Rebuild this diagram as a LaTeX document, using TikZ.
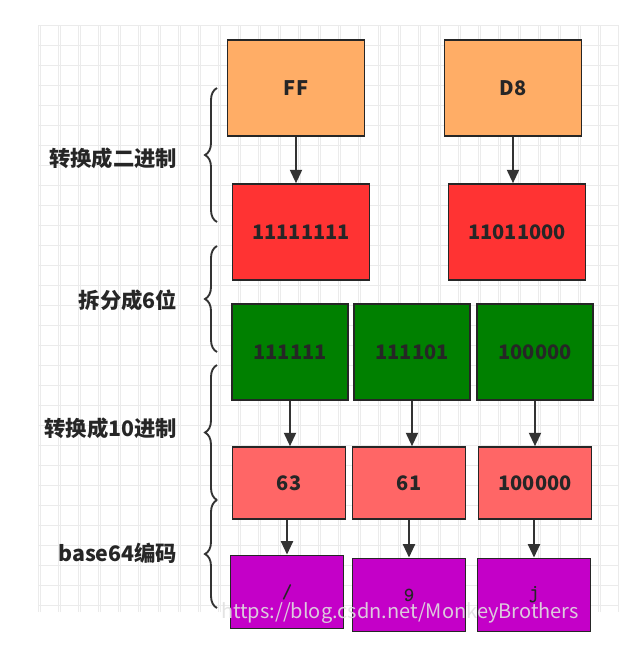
\documentclass[tikz,border=0pt]{standalone}
\usepackage{fontspec}
\setmainfont{Noto Sans CJK SC}
\usetikzlibrary{positioning,arrows.meta,decorations.pathreplacing}
\definecolor{hexorange}{HTML}{FFAD66}
\definecolor{binred}{HTML}{FF3333}
\definecolor{sixgreen}{HTML}{008000}
\definecolor{decsalmon}{HTML}{FF6666}
\definecolor{bpurple}{HTML}{C400C8}
\tikzset{
  cell/.style={draw=black!85, line width=1.2pt, font=\fontsize{15}{18}\selectfont\bfseries,
    text=black!85, inner sep=0pt},
  flow/.style={-{Triangle[length=10pt,width=9pt]}, line width=1.4pt, draw=black!80},
  stage/.style={font=\fontsize{16}{19}\selectfont\bfseries, text=black!85},
  bracket/.style={decorate, decoration={brace, amplitude=9pt}, line width=1.4pt, draw=black!80}
}
\begin{document}
\begin{tikzpicture}[x=0.75pt,y=-0.75pt]
  \useasboundingbox[fill=white] (0,0) rectangle (640,654);
  %grid
  \draw[black!8, line width=0.6pt] (38,25) grid[step=20] (618,612);
  \foreach \gx in {38,58,...,618} \draw[black!8, line width=0.6pt] (\gx,25) -- (\gx,612);
  \foreach \gy in {25,45,...,612} \draw[black!8, line width=0.6pt] (38,\gy) -- (618,\gy);

  %hex bytes
  \node[cell, fill=hexorange, minimum width=103pt, minimum height=72pt] (ff) at (296,88) {FF};
  \node[cell, fill=hexorange, minimum width=103pt, minimum height=72pt] (d8) at (513,88) {D8};

  %binary
  \node[cell, fill=binred, minimum width=103pt, minimum height=72pt] (bin1) at (301,232) {11111111};
  \node[cell, fill=binred, minimum width=103pt, minimum height=72pt] (bin2) at (517,232) {11011000};

  %6-bit groups
  \node[cell, fill=sixgreen, minimum width=87pt, minimum height=72pt] (six1) at (290,352) {111111};
  \node[cell, fill=sixgreen, minimum width=87pt, minimum height=72pt] (six2) at (412,352) {111101};
  \node[cell, fill=sixgreen, minimum width=87pt, minimum height=72pt] (six3) at (535,352) {100000};

  %decimal
  \node[cell, fill=decsalmon, minimum width=85pt, minimum height=54pt] (dec1) at (289,483) {63};
  \node[cell, fill=decsalmon, minimum width=85pt, minimum height=54pt] (dec2) at (409,483) {61};
  \node[cell, fill=decsalmon, minimum width=85pt, minimum height=54pt] (dec3) at (535,483) {100000};

  %base64
  \node[cell, fill=bpurple, minimum width=85pt, minimum height=55pt, font=\fontsize{15}{18}\selectfont\ttfamily\bfseries] (b1) at (287,592) {/};
  \node[cell, fill=bpurple, minimum width=85pt, minimum height=55pt, font=\fontsize{15}{18}\selectfont\ttfamily\bfseries] (b2) at (409,595) {9};
  \node[cell, fill=bpurple, minimum width=85pt, minimum height=55pt, font=\fontsize{15}{18}\selectfont\ttfamily\bfseries] (b3) at (534,595) {j};

  %arrows
  \draw[flow] (ff.south) -- (ff.south |- bin1.north);
  \draw[flow] (d8.south) -- (d8.south |- bin2.north);
  \draw[flow] (six1.south) -- (six1.south |- dec1.north);
  \draw[flow] (six2.south) -- (six2.south |- dec2.north);
  \draw[flow] (six3.south) -- (six3.south |- dec3.north);
  \draw[flow] (dec1.south -| b1.north) -- (b1.north);
  \draw[flow] (dec2.south -| b2.north) -- (b2.north);
  \draw[flow] (dec3.south -| b3.north) -- (b3.north);

  %stage braces and labels
  \coordinate (s1top) at (217,88);  \coordinate (s1bot) at (217,222);
  \coordinate (s2top) at (217,246); \coordinate (s2bot) at (217,352);
  \coordinate (s3top) at (217,365); \coordinate (s3bot) at (217,500);
  \coordinate (s4top) at (217,500); \coordinate (s4bot) at (217,608);
  \draw[bracket] (s1bot) -- (s1top);
  \draw[bracket] (s2bot) -- (s2top);
  \draw[bracket] (s3bot) -- (s3top);
  \draw[bracket] (s4bot) -- (s4top);
  \node[stage, anchor=east] (lab1) at (182,158) {转换成二进制};
  \node[stage, anchor=east] (lab2) at (182,300) {拆分成6位};
  \node[stage, anchor=east] (lab3) at (182,428) {转换成10进制};
  \node[stage, anchor=east] (lab4) at (182,553) {base64编码};

  %watermark
  \node[font=\fontsize{15}{18}\selectfont, text=white!88!black, opacity=0.9] (mark) at (400,613) {https://blog.csdn.net/MonkeyBrothers};
\end{tikzpicture}
\end{document}
